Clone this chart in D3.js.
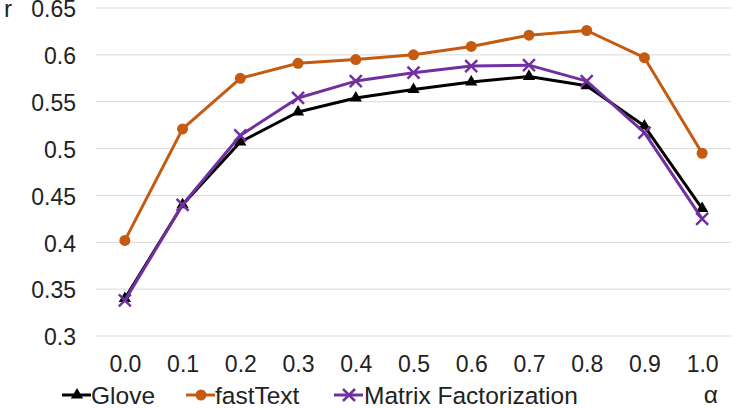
<!DOCTYPE html>
<html><head><meta charset="utf-8">
<script src="https://cdn.jsdelivr.net/npm/d3@7"></script>
<style>body{margin:0;background:#fff}svg{display:block}text{font-family:"Liberation Sans",Arial,sans-serif;fill:#222}</style>
</head><body>
<svg id="c" width="736" height="408"></svg>
<script>
const categories = ["0.0","0.1","0.2","0.3","0.4","0.5","0.6","0.7","0.8","0.9","1.0"];
const glove = [0.340,0.440,0.507,0.539,0.554,0.563,0.571,0.577,0.567,0.524,0.436];
const fastText = [0.402,0.521,0.575,0.591,0.595,0.600,0.609,0.621,0.626,0.597,0.495];
const matrixFactorization = [0.338,0.440,0.514,0.554,0.572,0.581,0.588,0.589,0.572,0.517,0.425];
const yTicks = [0.3,0.35,0.4,0.45,0.5,0.55,0.6,0.65];
const seriesNames = ["Glove","fastText","Matrix Factorization"];

const FS = "23px";
const LFS = "24.5px";
const svg = d3.select("#c");
const plotLeft = 96, plotRight = 731, plotTop = 8, plotBottom = 336;
const x = d3.scalePoint().domain(categories).range([plotLeft,plotRight]).padding(0.5);
const y = d3.scaleLinear().domain([0.3,0.65]).range([plotBottom,plotTop]);

// grid
svg.append("g").selectAll("line").data(yTicks).join("line")
  .attr("x1",plotLeft).attr("x2",plotRight).attr("y1",d=>y(d)).attr("y2",d=>y(d))
  .attr("stroke","#d9d9d9").attr("stroke-width",1);

// y axis labels
const yAxis = d3.axisLeft(y).tickValues(yTicks).tickSize(0).tickPadding(0)
  .tickFormat(d=>String(+d.toFixed(2)));
const gy = svg.append("g").attr("transform","translate(76,0)").call(yAxis);
gy.select(".domain").remove();
gy.selectAll("text").style("font-size",FS).style("font-family","'Liberation Sans',Arial,sans-serif").attr("fill","#222").attr("dy","0.38em");

// x axis labels
const xAxis = d3.axisBottom(x).tickSize(0).tickPadding(0);
const gx = svg.append("g").attr("transform","translate(0,371.5)").call(xAxis);
gx.select(".domain").remove();
gx.selectAll("text").style("font-size",FS).style("font-family","'Liberation Sans',Arial,sans-serif").attr("fill","#222").attr("dy","0");

svg.append("text").attr("x",4).attr("y",17).style("font-size",LFS).text("r");
svg.append("text").attr("x",718).attr("y",403).attr("text-anchor","end").style("font-size",LFS).text("α");

const series = [
  {name:seriesNames[0], values:glove, color:"#000000", marker:"tri"},
  {name:seriesNames[1], values:fastText, color:"#C55A11", marker:"circle"},
  {name:seriesNames[2], values:matrixFactorization, color:"#7030A0", marker:"x"}
];

const line = d3.line().x((d,i)=>x(categories[i])).y(d=>y(d));

function drawMarker(g, type, color){
  if(type==="circle"){
    g.append("circle").attr("r",5.5).attr("fill",color);
  } else if(type==="tri"){
    g.append("path").attr("d",d3.symbol(d3.symbolTriangle,65)()).attr("fill",color);
  } else {
    g.append("path").attr("d","M-6,-6L6,6M-6,6L6,-6").attr("stroke",color).attr("stroke-width",2.5).attr("fill","none");
  }
}

const order = [1,0,2];
order.forEach(k=>{
  const s = series[k];
  svg.append("path").datum(s.values).attr("d",line).attr("fill","none")
    .attr("stroke",s.color).attr("stroke-width",3).attr("stroke-linejoin","round");
  s.values.forEach((v,i)=>{
    const g = svg.append("g").attr("transform",`translate(${x(categories[i])},${y(v)})`);
    drawMarker(g, s.marker, s.color);
  });
});

// legend
const legendItems = [
  {s:series[0], x1:62, tx:91},
  {s:series[1], x1:186, tx:215},
  {s:series[2], x1:334, tx:364}
];
const ly = 395;
legendItems.forEach(it=>{
  svg.append("line").attr("x1",it.x1).attr("x2",it.x1+29).attr("y1",ly).attr("y2",ly)
    .attr("stroke",it.s.color).attr("stroke-width",3);
  const g = svg.append("g").attr("transform",`translate(${it.x1+15},${ly})`);
  drawMarker(g, it.s.marker, it.s.color);
  svg.append("text").attr("x",it.tx).attr("y",404).style("font-size",LFS).text(it.s.name);
});
</script>
</body></html>
